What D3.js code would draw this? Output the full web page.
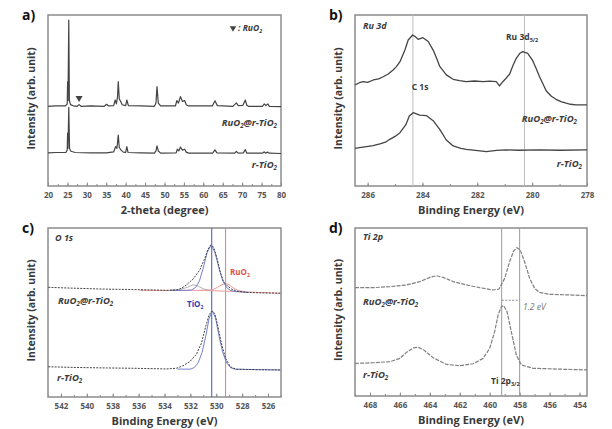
<!DOCTYPE html>
<html><head><meta charset="utf-8">
<script src="https://cdn.jsdelivr.net/npm/d3@7"></script>
<style>body{margin:0;background:#fff}svg{display:block}text{font-family:"Open Sans","Noto Sans",sans-serif}</style>
</head><body><svg id="chart" width="612" height="429"></svg>
<script>
// ---------- DATA ----------
// (a) XRD, [2theta, intensity a.u.]
const xrdRuO2TiO2 = [[20,46.6],[22,46.8],[24.5,46.8],[24.95,48],[25.05,61],[25.15,50],[25.35,97],[25.5,50],[25.8,47.6],[26.5,46.9],[27.5,46.6],[28.0,47.6],[28.5,46.6],[31,46.8],[34.5,46.6],[35.1,47.8],[35.6,46.8],[36.9,47],[37.3,50.3],[37.6,48],[37.9,52],[38.1,61],[38.35,51],[38.7,49.5],[39.1,47.5],[40.0,47],[40.3,50.3],[40.7,47],[44,46.8],[47.4,46.6],[47.8,48.5],[48.07,58.1],[48.4,48.5],[49,46.8],[52.8,46.8],[53.2,50],[53.6,48.5],[54.1,52.3],[54.6,49.5],[55.2,50],[55.6,47.5],[56.2,46.8],[62.3,46.8],[63.0,49.8],[63.6,47],[67.6,46.6],[68.5,48.6],[69.0,47],[70.2,47.2],[70.8,50.3],[71.2,47.2],[71.6,46.6],[75.2,46.6],[75.7,48],[76.1,47],[76.6,48],[77,46.6],[80,46.4]];
const xrdTiO2 = [[20,19.4],[22,19.6],[24.6,19.6],[24.95,21],[25.05,31],[25.15,22],[25.35,46],[25.55,22],[25.9,20.3],[27,19.6],[31,19.4],[35,19.4],[36.9,19.9],[37.4,23],[37.75,22],[38.1,29.8],[38.35,22.5],[38.8,21],[39.4,19.8],[40,19.6],[40.3,23],[40.6,19.6],[44,19.4],[47.4,19.2],[47.8,20.5],[48.07,23.5],[48.4,20.5],[49,19.2],[53.0,19.4],[53.3,21.5],[53.7,20.5],[54.1,22.8],[54.6,21],[55.2,21.5],[55.6,19.8],[56.2,19.2],[62.4,19.2],[63.0,21.1],[63.5,19.4],[68.1,19.2],[68.5,20.2],[69,19.2],[70.3,19.4],[70.8,21.3],[71.2,19.2],[75.3,19.2],[75.7,20],[76.0,19.2],[76.5,19.8],[77,19.2],[80,19.0]];
const xrdMarker = [[28.0, 51.5]];

// (b) Ru 3d XPS, [BE eV, intensity]
const ru3dRuO2TiO2 = [[286.46,59.1],[286.3,60.4],[286.16,61.0],[286.0,60.6],[285.79,62.0],[285.6,62.6],[285.43,63.9],[285.25,65.5],[285.07,67.8],[284.95,69.8],[284.82,72.7],[284.64,79.5],[284.52,85.4],[284.36,88.3],[284.25,87.2],[284.16,85.8],[283.98,86.7],[283.79,84.5],[283.61,79.5],[283.48,74.5],[283.37,69.9],[283.13,65.0],[282.88,62.4],[282.65,61.6],[282.40,61.0],[282.1,61.4],[281.79,61.0],[281.55,61.3],[281.31,61.0],[281.19,58.5],[281.07,61.0],[280.95,63.0],[280.82,65.5],[280.7,70.5],[280.58,74.7],[280.45,77.6],[280.34,78.6],[280.16,77.6],[279.98,73.3],[279.85,68.5],[279.73,63.9],[279.6,59.5],[279.49,55.7],[279.3,52.5],[279.13,50.7],[278.95,49.3],[278.76,48.4],[278.6,47.8],[278.40,47.4],[278.2,47.5],[278.0,47.4]];
const ru3dTiO2 = [[286.46,22.0],[286.3,22.4],[286.04,23.0],[285.8,23.6],[285.55,24.6],[285.35,25.6],[285.19,27.3],[285.0,29.0],[284.82,31.2],[284.61,35.7],[284.48,40.9],[284.34,42.9],[284.22,42.2],[284.10,41.5],[283.85,41.1],[283.61,38.2],[283.37,33.1],[283.13,26.9],[282.88,23.4],[282.6,22.0],[282.40,21.4],[281.9,20.6],[281.67,20.1],[281.3,20.8],[280.95,21.1],[280.5,20.9],[279.73,21.1],[279.0,20.9],[278.0,21.1]];
const ru3dLines = [284.35, 280.28];

// (c) O 1s XPS
const o1sRuO2TiO2 = [[542.98,64.9],[541.5,64.5],[538.99,63.9],[537.5,63.7],[535.91,63.5],[533.85,63.1],[533.08,63.3],[532.69,64.3],[532.31,66.3],[531.79,69.8],[531.28,75.1],[530.89,82.0],[530.64,87.4],[530.43,89.9],[530.20,88.6],[529.94,82.0],[529.69,73.8],[529.43,68.2],[529.17,65.9],[528.84,63.9],[528.45,62.7],[527.68,61.9],[526.5,61.6],[525.03,61.4]];
const o1sRuO2TiO2FitTiO2 = [[533.5,63.1],[532.3,63.1],[531.9,63.4],[531.6,64.8],[531.3,68.7],[531.0,76.5],[530.7,85.6],[530.4,89.9],[530.1,85.6],[529.8,76.5],[529.5,68.7],[529.2,64.8],[528.9,63.0],[528.5,62.4],[527.5,61.9]];
const o1sRuO2TiO2FitOH = [[533.6,63.2],[532.8,63.6],[532.2,65.0],[531.8,66.4],[531.4,65.6],[531.0,64.0],[530.5,63.1]];
const o1sRuO2TiO2FitRuO2 = [[531.2,63.1],[530.3,63.4],[529.9,64.9],[529.6,66.3],[529.3,67.3],[529.0,66.3],[528.7,64.6],[528.3,63.0],[527.8,62.3]];
const o1sBackground = [[535.9,63.1],[531.0,63.1],[528.5,62.4],[525.03,61.4]];
const o1sTiO2 = [[542.98,17.9],[541.5,17.6],[540.28,17.4],[538.5,17.2],[536.42,17.0],[533.85,16.6],[533.08,17.0],[532.57,18.5],[532.05,20.9],[531.54,25.2],[531.15,31.8],[530.82,41.6],[530.56,48.5],[530.35,50.9],[530.12,49.5],[529.87,41.6],[529.61,31.8],[529.28,22.9],[528.92,17.9],[528.45,16.4],[527.0,16.2],[525.03,16.0]];
const o1sTiO2FitTiO2 = [[533.0,16.5],[532.0,16.5],[531.7,17.4],[531.4,20.2],[531.1,26.3],[530.8,36.5],[530.55,46.6],[530.3,50.9],[530.05,46.6],[529.8,36.5],[529.5,26.3],[529.2,20.2],[528.9,17.4],[528.6,16.5],[527.0,16.2],[525.03,16.0]];
const o1sLines = {TiO2: 530.35, RuO2: 529.28};

// (d) Ti 2p XPS
const ti2pRuO2TiO2 = [[469.0,64.5],[467.78,64.5],[466.67,65.1],[465.56,66.1],[464.67,68.1],[464.0,70.6],[463.56,71.6],[463.11,70.6],[462.44,68.1],[461.56,66.1],[460.67,64.5],[459.78,63.1],[459.38,63.7],[459.0,70.0],[458.67,79.9],[458.4,86.3],[458.18,88.3],[457.96,86.9],[457.67,79.9],[457.33,70.0],[457.0,64.1],[456.67,61.7],[456.0,60.5],[454.44,60.1],[453.49,59.7]];
const ti2pTiO2 = [[469.0,19.4],[467.78,19.8],[466.67,20.4],[466.0,22.4],[465.56,26.0],[465.11,28.6],[464.78,29.0],[464.44,27.6],[463.78,22.8],[462.89,18.8],[462.0,18.0],[461.11,19.2],[460.44,22.4],[460.0,28.4],[459.67,38.3],[459.44,48.2],[459.22,53.2],[459.07,53.8],[458.84,50.2],[458.56,38.3],[458.22,24.4],[457.89,18.5],[457.11,16.5],[455.0,15.9],[453.49,15.5]];
const ti2pLines = [459.2, 458.0];

const ticksA = [20,25,30,35,40,45,50,55,60,65,70,75,80];
const ticksB = [286,284,282,280,278];
const ticksC = [542,540,538,536,534,532,530,528,526];
const ticksD = [468,466,464,462,460,458,456,454];

// ---------- DRAW ----------
const svg = d3.select("#chart");
const TXT = "#3a3a3a";

function richText(g, x, y, parts, opts) {
  const size = opts.size || 9;
  const t = g.append("text").attr("x", x).attr("y", y)
    .attr("font-size", size).attr("font-weight", opts.weight || "bold")
    .attr("font-style", opts.italic ? "italic" : "normal")
    .attr("fill", opts.color || TXT).attr("text-anchor", opts.anchor || "start");
  parts.forEach((p, i) => {
    const sub = Array.isArray(p);
    const prevSub = i > 0 && Array.isArray(parts[i - 1]);
    const s = t.append("tspan").text(sub ? p[0] : p);
    if (sub) s.attr("font-size", size * 0.65).attr("dy", 2);
    else s.attr("dy", prevSub ? -2 : 0);
  });
  return t;
}

function panel(cfg) {
  const {x0, y0, x1, y1} = cfg.frame;
  const x = d3.scaleLinear().domain(cfg.xDomain).range([x0, x1]);
  const y = d3.scaleLinear().domain([0, 100]).range([y1, y0]);
  const g = svg.append("g");
  g.append("g").attr("transform", `translate(0,${y1})`)
    .call(d3.axisBottom(x).tickValues(cfg.minor).tickSize(-2).tickFormat(""))
    .call(a => a.select(".domain").remove())
    .call(a => a.selectAll("line").attr("stroke", "#888"));
  g.append("g").attr("transform", `translate(0,${y1})`)
    .call(d3.axisBottom(x).tickValues(cfg.ticks).tickSize(-3.5).tickPadding(6).tickFormat(d3.format("d")))
    .call(a => a.select(".domain").remove())
    .call(a => a.selectAll("line").attr("stroke", "#888"))
    .call(a => a.selectAll("text").attr("font-size", 8).attr("font-weight", "bold").attr("fill", "#555")
      .attr("font-family", '"Open Sans",sans-serif'));
  g.append("rect").attr("x", x0).attr("y", y0).attr("width", x1 - x0).attr("height", y1 - y0)
    .attr("fill", "none").attr("stroke", "#8c8c8c").attr("stroke-width", 1.5);
  g.append("text").attr("x", (x0 + x1) / 2).attr("y", y1 + 28).attr("text-anchor", "middle")
    .attr("font-size", 11).attr("font-weight", "bold").attr("fill", TXT).text(cfg.xTitle);
  g.append("text").attr("transform", `translate(${x0 - 13},${(y0 + y1) / 2 - 2}) rotate(-90)`)
    .attr("text-anchor", "middle").attr("font-size", 10.5).attr("font-weight", "bold").attr("fill", TXT)
    .text("Intensity (arb. unit)");
  g.append("text").attr("x", x0 - 26).attr("y", y0 + 5).attr("font-size", 14).attr("font-weight", "bold")
    .attr("fill", "#111").text(cfg.letter);
  const clip = "clip" + cfg.letter.replace(")", "");
  svg.append("clipPath").attr("id", clip).append("rect").attr("x", x0).attr("y", y0).attr("width", x1 - x0).attr("height", y1 - y0);
  const plot = g.append("g").attr("clip-path", `url(#${clip})`);
  return {x, y, g, plot};
}

function drawLine(p, data, color, width, dash) {
  const line = d3.line().x(d => p.x(d[0])).y(d => p.y(d[1]));
  p.plot.append("path").datum(data).attr("d", line).attr("fill", "none")
    .attr("stroke", color).attr("stroke-width", width).attr("stroke-dasharray", dash || null)
    .attr("stroke-linejoin", "round");
}
function vline(p, v, color, w) {
  p.plot.append("line").attr("x1", p.x(v)).attr("x2", p.x(v)).attr("y1", p.y(0)).attr("y2", p.y(100))
    .attr("stroke", color).attr("stroke-width", w || 1);
}

// Panel a
const pa = panel({frame:{x0:48,y0:15,x1:281,y1:186}, xDomain:[20,80], ticks:ticksA,
  minor:d3.range(20,80.1,2.5), xTitle:"2-theta (degree)", letter:"a)"});
drawLine(pa, xrdRuO2TiO2, "#444", 1.2);
drawLine(pa, xrdTiO2, "#444", 1.2);
pa.plot.selectAll(".mk").data(xrdMarker).join("path")
  .attr("d", d3.symbol(d3.symbolTriangle, 22)())
  .attr("transform", d => `translate(${pa.x(d[0])},${pa.y(d[1])}) rotate(180)`).attr("fill", "#444");
pa.g.append("path").attr("d", d3.symbol(d3.symbolTriangle, 18)())
  .attr("transform", `translate(233,28) rotate(180)`).attr("fill", "#444");
richText(pa.g, 238, 31, [": RuO", ["2"]], {italic:true, size:8.5});
richText(pa.g, 277, 126, ["RuO", ["2"], "@r-TiO", ["2"]], {italic:true, size:9.5, anchor:"end"});
richText(pa.g, 277, 168, ["r-TiO", ["2"]], {italic:true, size:9.5, anchor:"end"});

// Panel b
const pb = panel({frame:{x0:355,y0:15,x1:587,y1:186}, xDomain:[286.46,278], ticks:ticksB,
  minor:d3.range(278,286.1,1), xTitle:"Binding Energy (eV)", letter:"b)"});
ru3dLines.forEach(v => vline(pb, v, "#bdbdbd", 1));
drawLine(pb, ru3dRuO2TiO2, "#444", 1.3);
drawLine(pb, ru3dTiO2, "#444", 1.3);
richText(pb.g, 363, 29, ["Ru 3d"], {italic:true, size:9});
richText(pb.g, 420, 90, ["C 1s"], {size:8.5, anchor:"middle"});
richText(pb.g, 506, 40, ["Ru 3d", ["5/2"]], {size:8.5});
richText(pb.g, 577, 122, ["RuO", ["2"], "@r-TiO", ["2"]], {italic:true, size:9.5, anchor:"end"});
richText(pb.g, 582, 167, ["r-TiO", ["2"]], {italic:true, size:9.5, anchor:"end"});

// Panel c
const pc = panel({frame:{x0:48,y0:228,x1:281,y1:397}, xDomain:[543,525], ticks:ticksC,
  minor:d3.range(525,543.1,1), xTitle:"Binding Energy (eV)", letter:"c)"});
vline(pc, o1sLines.TiO2, "#4656b4", 1);
vline(pc, o1sLines.RuO2, "#e87a7a", 1);
drawLine(pc, o1sBackground, "#ef9a9a", 1);
drawLine(pc, o1sRuO2TiO2FitRuO2, "#ef9a9a", 1);
drawLine(pc, o1sRuO2TiO2FitOH, "#aaa", 0.9);
drawLine(pc, o1sRuO2TiO2FitTiO2, "#7482cc", 1);
drawLine(pc, o1sRuO2TiO2, "#444", 1, "2,1.2");
drawLine(pc, o1sTiO2FitTiO2, "#7482cc", 1);
drawLine(pc, o1sTiO2, "#444", 1, "2,1.2");
richText(pc.g, 55, 241, ["O 1s"], {italic:true, size:9});
richText(pc.g, 230, 275, ["RuO", ["2"]], {size:8, color:"#e05050"});
richText(pc.g, 187, 307, ["TiO", ["2"]], {size:8, color:"#3040b0"});
richText(pc.g, 58, 304, ["RuO", ["2"], "@r-TiO", ["2"]], {italic:true, size:9.5});
richText(pc.g, 57, 381, ["r-TiO", ["2"]], {italic:true, size:9.5});

// Panel d
const pd = panel({frame:{x0:355,y0:228,x1:587,y1:396}, xDomain:[469,453.5], ticks:ticksD,
  minor:d3.range(454,469.1,1), xTitle:"Binding Energy (eV)", letter:"d)"});
ti2pLines.forEach(v => vline(pd, v, "#9a9a9a", 1));
drawLine(pd, ti2pRuO2TiO2, "#808080", 1.2, "4,1.2");
drawLine(pd, ti2pTiO2, "#808080", 1.2, "4,1.2");
pd.plot.append("line").attr("x1", pd.x(ti2pLines[0])).attr("x2", pd.x(ti2pLines[1]))
  .attr("y1", pd.y(57)).attr("y2", pd.y(57)).attr("stroke", "#888").attr("stroke-width", 1).attr("stroke-dasharray", "2,1.5");
richText(pd.g, 363, 240, ["Ti 2p"], {italic:true, size:9});
richText(pd.g, 363, 305, ["RuO", ["2"], "@r-TiO", ["2"]], {italic:true, size:9.5});
richText(pd.g, 523, 310, ["1.2 eV"], {italic:true, size:8.5, weight:"normal", color:"#777"});
richText(pd.g, 363, 378, ["r-TiO", ["2"]], {italic:true, size:9.5});
richText(pd.g, 491, 384, ["Ti 2p", ["3/2"]], {size:8.5});
</script></body></html>
